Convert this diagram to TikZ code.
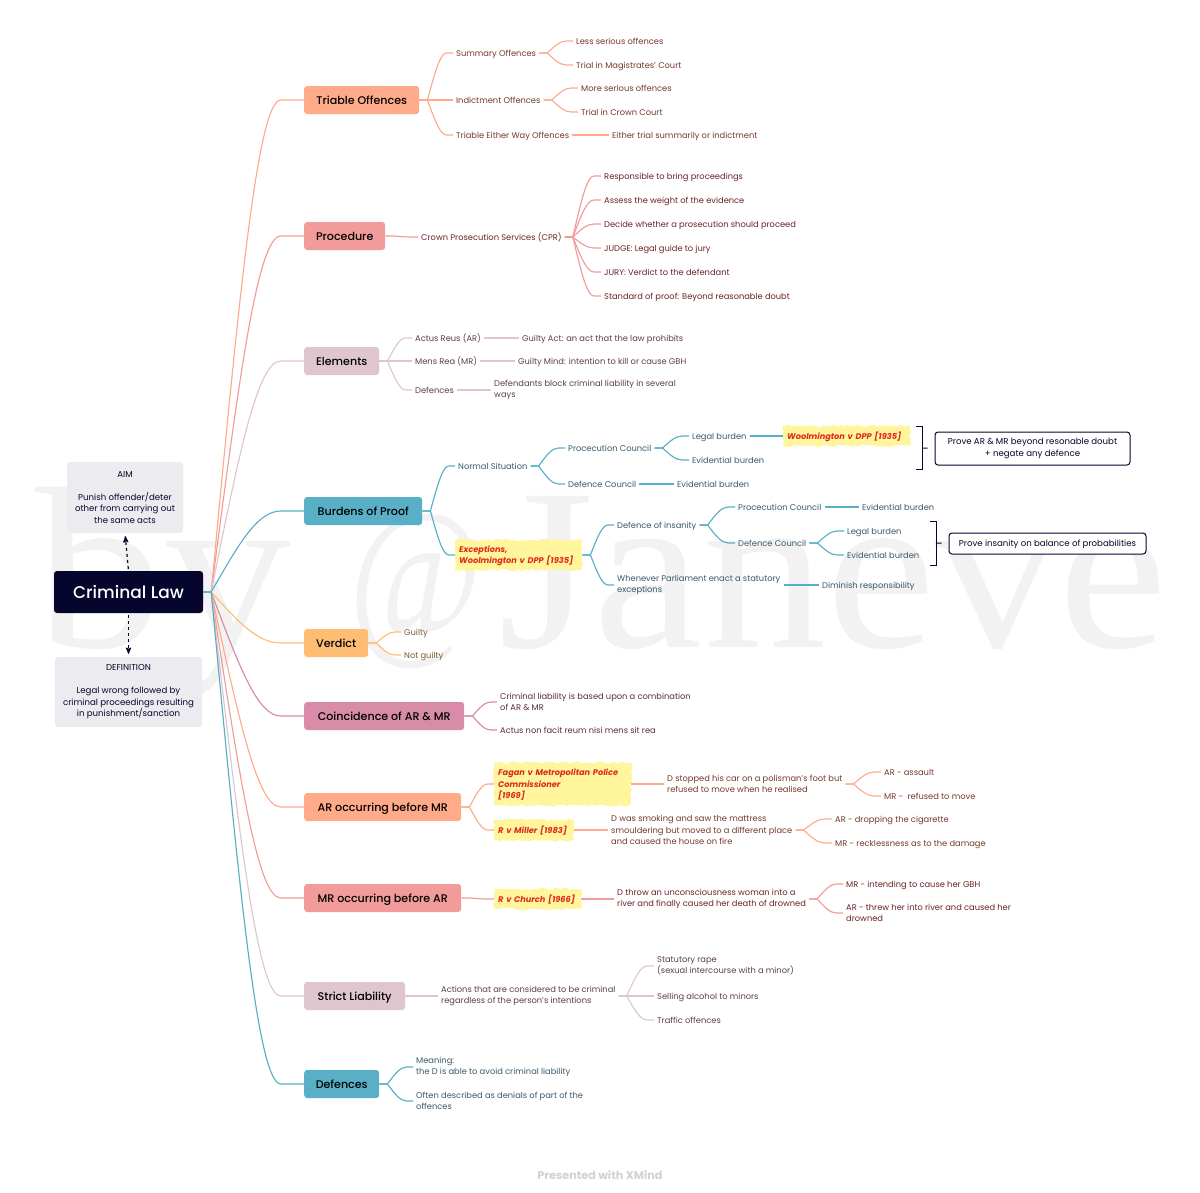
\documentclass[tikz,border=0pt]{standalone}
\usepackage{fontspec}
\setmainfont{Poppins}
\newfontfamily\midfont{Poppins Medium}
\newfontfamily\markfont{Liberation Serif}
\usetikzlibrary{calc}
\usetikzlibrary{arrows}
\usetikzlibrary{decorations.pathmorphing}
\definecolor{navyC}{HTML}{05052E}
\definecolor{noteC}{HTML}{ECEBEF}
\definecolor{triC}{HTML}{FFAB8A}
\definecolor{procC}{HTML}{F29B9B}
\definecolor{elemC}{HTML}{DFC6CE}
\definecolor{burdC}{HTML}{58AFC6}
\definecolor{verdC}{HTML}{FFBD74}
\definecolor{coinC}{HTML}{D88CA8}
\definecolor{triT}{HTML}{74392A}
\definecolor{procT}{HTML}{6B2226}
\definecolor{elemT}{HTML}{5A3E48}
\definecolor{burdT}{HTML}{38596A}
\definecolor{verdT}{HTML}{7A5A33}
\definecolor{coinT}{HTML}{5E2A3F}
\definecolor{caseY}{HTML}{FFF59D}
\definecolor{caseR}{HTML}{DD2A1B}
\tikzset{>=stealth'}
\tikzset{wire/.style={line width=1.15pt}}
\tikzset{fork/.style={to path={let \p1=(\tikztostart.east), \p2=(\tikztotarget.west),
    \n1={\x2-\x1-8pt}, \n2={\y2-\y1} in
    (\p1) -- ++(8,0) coordinate (f)
    .. controls ($(f)+(.3*\n1,.6*\n2)$) and ($(f)+(.5*\n1,\n2)$) .. ($(f)+(.75*\n1,\n2)$)
    -- (\p2)}}}
\tikzset{topic/.style={anchor=west,rounded corners=3pt,minimum height=28pt,inner sep=0pt,text height=9.5pt,text depth=0pt,font=\fontsize{11.1}{12}\midfont,text=black}}
\tikzset{leaf/.style={anchor=west,inner sep=3pt,text height=6pt,text depth=0pt,font=\fontsize{8.3}{11.5}\selectfont}}
\tikzset{para/.style={leaf,align=left,text height=,text depth=}}
\tikzset{case/.style={anchor=west,align=left,inner xsep=4pt,inner ysep=0pt,fill=caseY,text=caseR,
    decorate,decoration={random steps,segment length=3pt,amplitude=1.2pt},
    execute at begin node={\rule{0pt}{8.5pt}},
    font=\fontsize{8.2}{11.5}\selectfont\bfseries\itshape}}
\tikzset{gloss/.style={fill=noteC,rounded corners=3pt,align=center,inner sep=0pt,text=navyC,
    execute at begin node={\rule{0pt}{9.5pt}},font=\fontsize{8.6}{11.5}\selectfont}}
\tikzset{wrap/.style={draw=navyC,fill=white,line width=1pt,rounded corners=3pt,align=center,inner sep=0pt,text=navyC,
    execute at begin node={\rule{0pt}{9pt}},font=\fontsize{8.6}{11.5}\selectfont}}
\tikzset{brace/.style={draw=navyC,line width=1pt}}
\tikzset{rel/.style={draw=navyC,line width=1.2pt,dashed,->,shorten >=3pt,shorten <=2pt}}
\tikzset{ghost/.style={anchor=base west,text=black!5,inner sep=0pt}}

\begin{document}
\begin{tikzpicture}[x=1pt,y=-1pt]
    \useasboundingbox (0,0) rectangle (1200,1192);

    \node[ghost,xscale=1.11,font=\fontsize{231}{231}\markfont] (markby) at (35,647) {by};
    \node[ghost,xscale=.8,font=\fontsize{181}{181}\markfont] (markat) at (349,634) {@};
    \node[ghost,xscale=1.065,font=\fontsize{231}{231}\markfont] (markname) at (498,647) {Janeve};
    \node[inner sep=0pt,text=black!18,font=\fontsize{11.2}{13}\selectfont\bfseries] (stamp) at (600,1175) {Presented with XMind};

    \node[fill=navyC,text=white,rounded corners=3pt,minimum width=149pt,minimum height=42pt,inner sep=0pt,font=\fontsize{17}{20}\midfont] (root) at (128.5,592) {Criminal Law};
    \node[gloss,minimum width=116pt,minimum height=71pt] (aim) at (125,497.5) {AIM\\[11.5pt]Punish offender/deter\\other from carrying out\\the same acts};
    \node[gloss,minimum width=147pt,minimum height=70pt] (defn) at (128.5,692) {DEFINITION\\[11.5pt]Legal wrong followed by\\criminal proceedings resulting\\in punishment/sanction};
    \draw[rel] (root.north) -- (aim.south);
    \draw[rel] (root.south) -- (defn.north);

    \node[topic,fill=triC,minimum width=115pt] (triable) at (304,100) {Triable Offences};
    \node[topic,fill=procC,minimum width=81pt] (procedure) at (304,236) {Procedure};
    \node[topic,fill=elemC,minimum width=75pt] (elements) at (304,361) {Elements};
    \node[topic,fill=burdC,minimum width=118pt] (burdens) at (304,511) {Burdens of Proof};
    \node[topic,fill=verdC,minimum width=64pt] (verdict) at (304,643) {Verdict};
    \node[topic,fill=coinC,minimum width=160pt] (coincide) at (304,716) {Coincidence of AR \& MR};
    \node[topic,fill=triC,minimum width=157pt] (arfirst) at (304,807) {AR occurring before MR};
    \node[topic,fill=procC,minimum width=157pt] (mrfirst) at (304,898) {MR occurring before AR};
    \node[topic,fill=elemC,minimum width=101pt] (strict) at (304,996) {Strict Liability};
    \node[topic,fill=burdC,minimum width=75pt] (defences) at (304,1084) {Defences};

    \draw[wire,triC] (root) to[fork] (triable);
    \draw[wire,procC] (root) to[fork] (procedure);
    \draw[wire,elemC] (root) to[fork] (elements);
    \draw[wire,verdC] (root) to[fork] (verdict);
    \draw[wire,coinC] (root) to[fork] (coincide);
    \draw[wire,triC] (root) to[fork] (arfirst);
    \draw[wire,procC] (root) to[fork] (mrfirst);
    \draw[wire,elemC] (root) to[fork] (strict);
    \draw[wire,burdC] (root) to[fork] (defences);
    \draw[wire,burdC] (root) to[fork] (burdens);

    \begin{scope}[every node/.append style={text=triT}]
    \node[leaf] (summary) at (453,53) {Summary Offences};
    \node[leaf] (indict) at (453,100) {Indictment Offences};
    \node[leaf] (either) at (453,135) {Triable Either Way Offences};
    \node[leaf] (lesser) at (573,41) {Less serious offences};
    \node[leaf] (magist) at (573,65) {Trial in Magistrates' Court};
    \node[leaf] (moreser) at (578,88) {More serious offences};
    \node[leaf] (crown) at (578,112) {Trial in Crown Court};
    \node[leaf] (eithertrial) at (609,135) {Either trial summarily or indictment};
    \end{scope}
    \draw[wire,triC] (triable) to[fork] (summary);
    \draw[wire,triC] (triable) to[fork] (indict);
    \draw[wire,triC] (triable) to[fork] (either);
    \draw[wire,triC] (summary) to[fork] (lesser);
    \draw[wire,triC] (summary) to[fork] (magist);
    \draw[wire,triC] (indict) to[fork] (moreser);
    \draw[wire,triC] (indict) to[fork] (crown);
    \draw[wire,triC] (either) to[fork] (eithertrial);

    \begin{scope}[every node/.append style={text=procT}]
    \node[leaf] (cps) at (418,237) {Crown Prosecution Services (CPR)};
    \node[leaf] (bring) at (601,176) {Responsible to bring proceedings};
    \node[leaf] (weigh) at (601,200) {Assess the weight of the evidence};
    \node[leaf] (decide) at (601,224) {Decide whether a prosecution should proceed};
    \node[leaf] (judge) at (601,248) {JUDGE: Legal guide to jury};
    \node[leaf] (jury) at (601,272) {JURY: Verdict to the defendant};
    \node[leaf] (standard) at (601,296) {Standard of proof: Beyond reasonable doubt};
    \end{scope}
    \draw[wire,procC] (procedure) to[fork] (cps);
    \draw[wire,procC] (cps) to[fork] (bring);
    \draw[wire,procC] (cps) to[fork] (weigh);
    \draw[wire,procC] (cps) to[fork] (decide);
    \draw[wire,procC] (cps) to[fork] (judge);
    \draw[wire,procC] (cps) to[fork] (jury);
    \draw[wire,procC] (cps) to[fork] (standard);

    \begin{scope}[every node/.append style={text=elemT}]
    \node[leaf] (actus) at (412,338) {Actus Reus (AR)};
    \node[leaf] (mens) at (412,361) {Mens Rea (MR)};
    \node[leaf] (blocks) at (412,390) {Defences};
    \node[leaf] (gact) at (519,338) {Guilty Act: an act that the law prohibits};
    \node[leaf] (gmind) at (515,361) {Guilty Mind: intention to kill or cause GBH};
    \node[para] (dblock) at (491,390) {Defendants block criminal liability in several\\ways};
    \end{scope}
    \draw[wire,elemC] (elements) to[fork] (actus);
    \draw[wire,elemC] (elements) to[fork] (mens);
    \draw[wire,elemC] (elements) to[fork] (blocks);
    \draw[wire,elemC] (actus) to[fork] (gact);
    \draw[wire,elemC] (mens) to[fork] (gmind);
    \draw[wire,elemC] (blocks) to[fork] (dblock);

    \begin{scope}[every node/.append style={text=burdT}]
    \node[leaf] (normal) at (455,466) {Normal Situation};
    \node[case,text=caseR,text width=119pt,minimum height=30pt] (excep) at (455,555) {Exceptions,\\Woolmington v DPP [1935]};
    \node[leaf] (pros) at (565,448) {Procecution Council};
    \node[leaf] (dcouncil) at (565,484) {Defence Council};
    \node[leaf] (legal) at (689,436) {Legal burden};
    \node[leaf] (evid) at (689,460) {Evidential burden};
    \node[leaf] (devid) at (674,484) {Evidential burden};
    \node[case,text=caseR,text width=119pt,minimum height=20pt] (woolm) at (783,436) {Woolmington v DPP [1935]};
    \node[leaf] (insanity) at (614,525) {Defence of insanity};
    \node[para] (parl) at (614,585) {Whenever Parliament enact a statutory\\exceptions};
    \node[leaf] (ipros) at (735,507) {Procecution Council};
    \node[leaf] (idef) at (735,543) {Defence Council};
    \node[leaf] (ipevid) at (859,507) {Evidential burden};
    \node[leaf] (ilegal) at (844,531) {Legal burden};
    \node[leaf] (ievid) at (844,555) {Evidential burden};
    \node[leaf] (dimin) at (819,585) {Diminish responsibility};
    \end{scope}
    \draw[wire,burdC] (burdens) to[fork] (normal);
    \draw[wire,burdC] (burdens) to[fork] (excep);
    \draw[wire,burdC] (normal) to[fork] (pros);
    \draw[wire,burdC] (normal) to[fork] (dcouncil);
    \draw[wire,burdC] (pros) to[fork] (legal);
    \draw[wire,burdC] (pros) to[fork] (evid);
    \draw[wire,burdC] (dcouncil) to[fork] (devid);
    \draw[wire,burdC] (legal) to[fork] (woolm);
    \draw[wire,burdC] (excep) to[fork] (insanity);
    \draw[wire,burdC] (excep) to[fork] (parl);
    \draw[wire,burdC] (insanity) to[fork] (ipros);
    \draw[wire,burdC] (insanity) to[fork] (idef);
    \draw[wire,burdC] (ipros) to[fork] (ipevid);
    \draw[wire,burdC] (idef) to[fork] (ilegal);
    \draw[wire,burdC] (idef) to[fork] (ievid);
    \draw[wire,burdC] (parl) to[fork] (dimin);

    \node[wrap,minimum width=195pt,minimum height=33pt] (proveA) at (1032.5,448.5) {Prove AR \& MR beyond resonable doubt\\+ negate any defence};
    \node[wrap,minimum width=197pt,minimum height=21pt] (proveB) at (1047.5,543.5) {Prove insanity on balance of probabilities};
    \coordinate (braceA) at (922,448);
    \coordinate (braceB) at (936,543);
    \draw[brace] ($(braceA)+(-6,-22)$) -| ($(braceA)+(0,21)$) -- ++(-6,0);
    \draw[brace] ($(braceB)+(-6,-22)$) -| ($(braceB)+(0,22)$) -- ++(-6,0);
    \draw[brace,shorten >=7pt] (braceA) -- (proveA);
    \draw[brace,shorten >=7pt] (braceB) -- (proveB);

    \begin{scope}[every node/.append style={text=verdT}]
    \node[leaf] (guilty) at (401,632) {Guilty};
    \node[leaf] (notguilty) at (401,655) {Not guilty};
    \end{scope}
    \draw[wire,verdC] (verdict) to[fork] (guilty);
    \draw[wire,verdC] (verdict) to[fork] (notguilty);

    \begin{scope}[every node/.append style={text=coinT}]
    \node[para] (combo) at (497,702) {Criminal liability is based upon a combination\\of AR \& MR};
    \node[leaf] (actusnon) at (497,730) {Actus non facit reum nisi mens sit rea};
    \end{scope}
    \draw[wire,coinC] (coincide) to[fork] (combo);
    \draw[wire,coinC] (coincide) to[fork] (actusnon);

    \begin{scope}[every node/.append style={text=triT}]
    \node[case,text=caseR,text width=129pt,minimum height=43pt] (fagan) at (494,784) {Fagan v Metropolitan Police\\Commissioner\\{}[1969]};
    \node[case,text=caseR,text width=72pt,minimum height=21pt] (miller) at (494,830) {R v Miller [1983]};
    \node[para] (fagand) at (664,784) {D stopped his car on a polisman's foot but\\refused to move when he realised};
    \node[leaf] (fagana) at (881,772) {AR - assault};
    \node[leaf] (faganm) at (881,796) {MR -\ \ refused to move};
    \node[para] (millerd) at (608,830) {D was smoking and saw the mattress\\smouldering but moved to a different place\\and caused the house on fire};
    \node[leaf] (millera) at (832,819) {AR - dropping the cigarette};
    \node[leaf] (millerm) at (832,843) {MR - recklessness as to the damage};
    \end{scope}
    \draw[wire,triC] (arfirst) to[fork] (fagan);
    \draw[wire,triC] (arfirst) to[fork] (miller);
    \draw[wire,triC] (fagan) to[fork] (fagand);
    \draw[wire,triC] (fagand) to[fork] (fagana);
    \draw[wire,triC] (fagand) to[fork] (faganm);
    \draw[wire,triC] (miller) to[fork] (millerd);
    \draw[wire,triC] (millerd) to[fork] (millera);
    \draw[wire,triC] (millerd) to[fork] (millerm);

    \begin{scope}[every node/.append style={text=procT}]
    \node[case,text=caseR,text width=79pt,minimum height=20pt] (church) at (494,899) {R v Church [1966]};
    \node[para] (churchd) at (614,899) {D throw an unconsciousness woman into a\\river and finally caused her death of drowned};
    \node[leaf] (churchm) at (843,884) {MR - intending to cause her GBH};
    \node[para] (churcha) at (843,913) {AR - threw her into river and caused her\\drowned};
    \end{scope}
    \draw[wire,procC] (mrfirst) to[fork] (church);
    \draw[wire,procC] (church) to[fork] (churchd);
    \draw[wire,procC] (churchd) to[fork] (churchm);
    \draw[wire,procC] (churchd) to[fork] (churcha);

    \begin{scope}[every node/.append style={text=elemT}]
    \node[para] (actions) at (438,996) {Actions that are considered to be criminal\\regardless of the person's intentions};
    \node[para] (rape) at (654,966) {Statutory rape\\(sexual intercourse with a minor)};
    \node[leaf] (alcohol) at (654,996) {Selling alcohol to minors};
    \node[leaf] (traffic) at (654,1020) {Traffic offences};
    \end{scope}
    \draw[wire,elemC] (strict) to[fork] (actions);
    \draw[wire,elemC] (actions) to[fork] (rape);
    \draw[wire,elemC] (actions) to[fork] (alcohol);
    \draw[wire,elemC] (actions) to[fork] (traffic);

    \begin{scope}[every node/.append style={text=burdT}]
    \node[para] (meaning) at (413,1067) {Meaning:\\the D is able to avoid criminal liability};
    \node[para] (denials) at (413,1101) {Often described as denials of part of the\\offences};
    \end{scope}
    \draw[wire,burdC] (defences) to[fork] (meaning);
    \draw[wire,burdC] (defences) to[fork] (denials);
\end{tikzpicture}
\end{document}
